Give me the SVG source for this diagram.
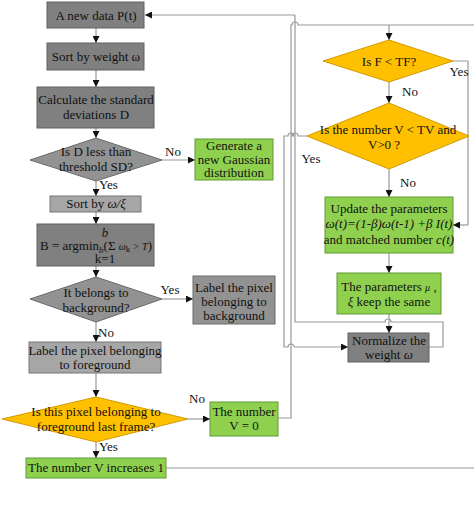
<svg xmlns="http://www.w3.org/2000/svg" width="474" height="505" viewBox="0 0 474 505">
<style>
text{font-family:"Liberation Serif","Times New Roman",serif;font-size:13px;fill:#111;text-anchor:middle}
.dk{fill:#808080;stroke:#606060;stroke-width:1}
.md{fill:#929292;stroke:#6a6a6a;stroke-width:1}
.lt{fill:#a6a6a6;stroke:#777;stroke-width:1}
.gr{fill:#8fd14f;stroke:#5e9a35;stroke-width:1}
.or{fill:#ffc000;stroke:#d49a00;stroke-width:1}
.c{fill:none;stroke:#999;stroke-width:1.2}
.ca{fill:none;stroke:#999;stroke-width:1.2;marker-end:url(#ah)}
.lb{text-anchor:start}
.it{font-style:italic}
</style>
<defs>
<marker id="ah" viewBox="0 0 10 10" refX="10" refY="5" markerWidth="7" markerHeight="7" markerUnits="userSpaceOnUse" orient="auto">
<path d="M0,0 L10,5 L0,10 z" fill="#111"/>
</marker>
</defs>
<rect width="474" height="505" fill="#fff"/>

<g id="connectors">
<path class="ca" d="M96,28 V43"/>
<path class="ca" d="M96,70 V87"/>
<path class="ca" d="M96,128 V138"/>
<path class="ca" d="M162,160 H195"/>
<path class="ca" d="M96,181 V196"/>
<path class="ca" d="M96,212 V224"/>
<path class="ca" d="M96,266 V277"/>
<path class="ca" d="M162,299 H193"/>
<path class="ca" d="M96,322 V342"/>
<path class="ca" d="M96,373 V397"/>
<path class="ca" d="M188,419 H210"/>
<path class="ca" d="M96,442 V458"/>
<path class="c" d="M166,468 H474"/>
<path class="c" d="M278,418 H291 V25 H292 a3,3 0 0 1 6,0 H474"/>
<path class="ca" d="M389,25 V40"/>
<path class="c" d="M429,347 H443 V322 H391 a3,3 0 0 0 -6,0 H295 V15"/>
<path class="ca" d="M295,15 H145"/>
<path class="c" d="M453,61 H468 V225"/>
<path class="ca" d="M468,225 H453"/>
<path class="ca" d="M389,82 V103"/>
<path class="ca" d="M389,169 V197"/>
<path class="ca" d="M389,253 V273"/>
<path class="ca" d="M389,314 V333"/>
<path class="c" d="M307,136 H298 a3,3 0 0 0 -6,0 H294 a3,3 0 0 0 -6,0 H284 V347 H288 a3,3 0 0 1 6,0"/>
<path class="ca" d="M294,347 H348"/>
</g>

<g id="n1"><rect class="dk" x="47" y="2" width="97" height="26"/><text x="96" y="20">A new data P(t)</text></g>
<g id="n2"><rect class="dk" x="47" y="43" width="97" height="27"/><text x="96" y="61">Sort by weight ω</text></g>
<g id="n3"><rect class="dk" x="37" y="87" width="117" height="41"/><text x="96" y="104">Calculate the standard</text><text x="96" y="119">deviations D</text></g>
<g id="n4"><polygon class="md" points="96,138 162,160 96,181 30,160"/><text x="96" y="156">Is D less than</text><text x="96" y="171">threshold SD?</text></g>
<g id="n5"><rect class="gr" x="195" y="139" width="78" height="41"/><text x="234" y="150" font-size="12.5">Generate a</text><text x="234" y="163.5" font-size="12.5">new Gaussian</text><text x="234" y="177" font-size="12.5">distribution</text></g>
<g id="n6"><rect class="lt" x="50" y="196" width="91" height="16"/><text x="96" y="208">Sort by  <tspan class="it">ω/ξ</tspan></text></g>
<g id="n7"><rect class="dk" x="37" y="224" width="117" height="42"/>
<text x="96" y="250" font-size="12">B = argmin<tspan font-size="9" dy="3" class="it">b</tspan><tspan dy="-3">(</tspan>Σ <tspan class="it" font-size="10">ω</tspan><tspan font-size="9" dy="2">k</tspan><tspan class="it" font-size="10" dy="-2"> &gt; T</tspan>)</text>
<text x="105" y="237" font-size="9" class="it">b</text>
<text x="105" y="263" font-size="9">k=1</text>
</g>
<g id="n8"><polygon class="md" points="96,277 162,299 96,322 30,299"/><text x="96" y="297">It belongs to</text><text x="96" y="312">background?</text></g>
<g id="n9"><rect class="md" x="193" y="276" width="82" height="48"/><text x="234" y="292">Label the pixel</text><text x="234" y="306">belonging to</text><text x="234" y="320">background</text></g>
<g id="n10"><rect class="lt" x="29" y="342" width="132" height="31"/><text x="95" y="355">Label the pixel belonging</text><text x="95" y="369">to foreground</text></g>
<g id="n11"><polygon class="or" points="96,397 188,419 96,442 2,419"/><text x="96" y="416">Is this pixel belonging to</text><text x="96" y="431">foreground last frame?</text></g>
<g id="n12"><rect class="gr" x="210" y="402" width="68" height="34"/><text x="244" y="416">The number</text><text x="244" y="430">V = 0</text></g>
<g id="n13"><rect class="gr" x="26" y="458" width="140" height="20"/><text x="96" y="472">The number V increases 1</text></g>

<g id="n14"><polygon class="or" points="389,40 453,61 389,82 323,61"/><text x="389" y="66">Is F &lt; TF?</text></g>
<g id="n15"><polygon class="or" points="389,103 469,136 389,169 307,136"/><text x="388" y="134">Is the number V &lt; TV and</text><text x="384" y="149">V&gt;0 ?</text></g>
<g id="n16"><rect class="gr" x="325" y="197" width="128" height="56"/><text x="389" y="213">Update the parameters</text><text x="389" y="228" class="it">ω(t)=(1-β)ω(t-1) +β I(t)</text><text x="389" y="244">and matched number <tspan class="it">c(t)</tspan></text></g>
<g id="n17"><rect class="gr" x="337" y="273" width="104" height="41"/><text x="389" y="291">The parameters <tspan class="it" font-size="10">μ</tspan> ,</text><text x="389" y="306"><tspan class="it">ξ</tspan> keep the same</text></g>
<g id="n18"><rect class="dk" x="348" y="333" width="81" height="29"/><text x="389" y="345">Normalize the</text><text x="389" y="359">weight <tspan class="it">ω</tspan></text></g>

<g id="labels">
<text x="173" y="156">No</text>
<text class="lb" x="99" y="189">Yes</text>
<text x="170" y="294">Yes</text>
<text class="lb" x="98" y="337">No</text>
<text x="197" y="403">No</text>
<text class="lb" x="99" y="451">Yes</text>
<text x="459" y="76">Yes</text>
<text x="410" y="96">No</text>
<text x="311" y="163">Yes</text>
<text x="408" y="187">No</text>
</g>
</svg>
